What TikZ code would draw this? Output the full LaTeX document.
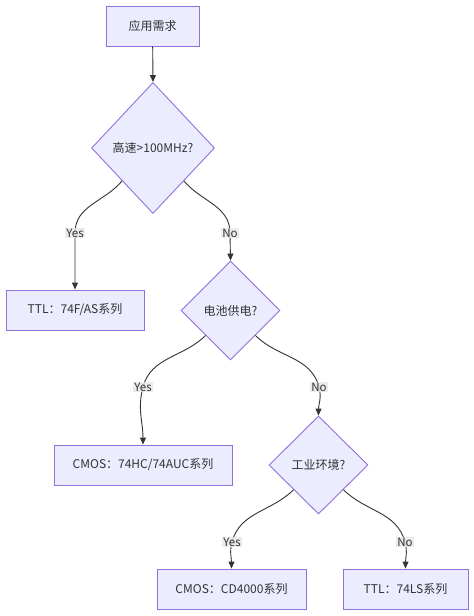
\documentclass[tikz,border=0pt]{standalone}
\usepackage{fontspec}
\setmainfont{Noto Sans CJK SC}
\usepackage{tikz}
\usetikzlibrary{shapes.geometric,arrows.meta}

\definecolor{nodefill}{HTML}{ECECFF}
\definecolor{nodeline}{HTML}{9370DB}
\definecolor{edgeline}{HTML}{333333}
\definecolor{lblfill}{HTML}{E8E8E8}

\begin{document}
\begin{tikzpicture}[x=1pt,y=1pt,yscale=-1,xscale=1,
	every node/.style={text=edgeline,font=\fontsize{12}{14}\selectfont},
	stepbox/.style={draw=nodeline,fill=nodefill,line width=0.9pt,minimum height=40pt,inner sep=0pt},
	choice/.style={draw=nodeline,fill=nodefill,line width=0.9pt,shape=diamond,inner sep=0pt},
	flow/.style={draw=edgeline,line width=0.9pt,-{Triangle[length=7pt,width=6pt]}},
	lbl/.style={fill=lblfill,fill opacity=0.85,text opacity=1,inner sep=1.2pt,font=\fontsize{11.5}{13}\selectfont}]
	\useasboundingbox (0,0) rectangle (474,616);
	\fill[white] (0,0) rectangle (474,616);

	%Shape: Rectangle [id:need]
	\node[stepbox,minimum width=93pt] (need) at (152.5,26) {应用需求};
	%Shape: Diamond [id:fast]
	\node[choice,minimum width=123pt,minimum height=131pt] (fast) at (153,148) {高速>100MHz?};
	%Shape: Rectangle [id:ttlf]
	\node[stepbox,minimum width=138pt] (ttlf) at (75,310) {TTL：74F/AS系列};
	%Shape: Diamond [id:battery]
	\node[choice,minimum width=99pt,minimum height=99pt] (battery) at (230.5,310.5) {电池供电?};
	%Shape: Rectangle [id:cmoshc]
	\node[stepbox,minimum width=178pt] (cmoshc) at (143,465) {CMOS：74HC/74AUC系列};
	%Shape: Diamond [id:industry]
	\node[choice,minimum width=99pt,minimum height=98pt] (industry) at (318.5,465) {工业环境?};
	%Shape: Rectangle [id:cmoscd]
	\node[stepbox,minimum width=149pt] (cmoscd) at (231.5,589) {CMOS：CD4000系列};
	%Shape: Rectangle [id:ttlls]
	\node[stepbox,minimum width=125pt] (ttlls) at (405.5,589) {TTL：74LS系列};

	% label spots
	\coordinate (yesA) at (75,233);
	\coordinate (noA) at (230,233);
	\coordinate (yesB) at (143,387);
	\coordinate (noB) at (319,387);
	\coordinate (yesC) at (232,542);
	\coordinate (noC) at (405,542);

	%Straight Lines [id:need-fast]
	\draw[flow] (need) -- (fast.north);
	%Curve Lines [id:fast-ttlf]
	\draw[flow] (fast.south west) to[out=130,in=-90] (yesA) -- (ttlf.north);
	%Curve Lines [id:fast-battery]
	\draw[flow] (fast.south east) to[out=50,in=-90] (noA) -- (battery.north);
	%Curve Lines [id:battery-cmoshc]
	\draw[flow] (battery.south west) to[out=135,in=-75] (yesB) to[out=105,in=-90] (cmoshc.north);
	%Curve Lines [id:battery-industry]
	\draw[flow] (battery.south east) to[out=45,in=-105] (noB) to[out=75,in=-90] (industry.north);
	%Curve Lines [id:industry-cmoscd]
	\draw[flow] (industry.south west) to[out=135,in=-75] (yesC) to[out=105,in=-90] (cmoscd.north);
	%Curve Lines [id:industry-ttlls]
	\draw[flow] (industry.south east) to[out=45,in=-105] (noC) to[out=75,in=-90] (ttlls.north);

	% Text Node
	\node[lbl] (lblyesA) at (yesA) {Yes};
	% Text Node
	\node[lbl] (lblnoA) at (noA) {No};
	% Text Node
	\node[lbl] (lblyesB) at (yesB) {Yes};
	% Text Node
	\node[lbl] (lblnoB) at (noB) {No};
	% Text Node
	\node[lbl] (lblyesC) at (yesC) {Yes};
	% Text Node
	\node[lbl] (lblnoC) at (noC) {No};

\end{tikzpicture}
\end{document}
